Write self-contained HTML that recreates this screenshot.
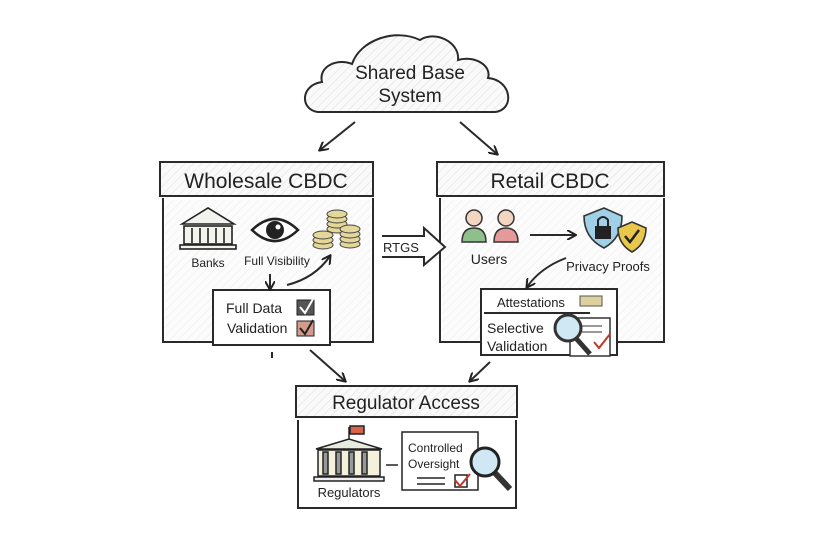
<!DOCTYPE html>
<html><head><meta charset="utf-8"><style>
html,body{margin:0;padding:0;background:#fff;}
svg{display:block;}
text{font-family:"Liberation Sans",sans-serif;fill:#222;}
</style></head><body>
<svg width="828" height="552" viewBox="0 0 828 552" xmlns="http://www.w3.org/2000/svg">
<defs>
<pattern id="h" width="6" height="6" patternUnits="userSpaceOnUse" patternTransform="rotate(45)">
<rect width="6" height="6" fill="#fafafa"/><line x1="0" y1="0" x2="0" y2="6" stroke="#e2e2e2" stroke-width="1.2"/></pattern>
<marker id="a" markerWidth="10" markerHeight="10" refX="8" refY="5" orient="auto" markerUnits="userSpaceOnUse"><path d="M0,0 L9,5 L0,10" fill="none" stroke="#222" stroke-width="2"/></marker>
</defs>
<g stroke="#2a2a2a" stroke-width="2" fill="none">
<path d="M318,112 C300,110 300,85 322,82 C318,66 338,58 352,64 C360,40 395,28 420,40 C435,30 460,42 458,60 C475,55 492,66 488,78 C512,80 515,110 495,112 Z" fill="url(#h)"/>
<line x1="355" y1="122" x2="320" y2="150" marker-end="url(#a)"/>
<line x1="460" y1="122" x2="497" y2="154" marker-end="url(#a)"/>
<rect x="160" y="162" width="213" height="34" fill="url(#h)"/>
<path d="M163,198 V342 H373 V198" fill="#fff"/>
<rect x="165" y="200" width="206" height="140" fill="url(#h)" stroke="none" opacity="0.6"/>
<rect x="437" y="162" width="227" height="34" fill="url(#h)"/>
<path d="M440,198 V342 H664 V198" fill="#fff"/>
<rect x="442" y="200" width="220" height="140" fill="url(#h)" stroke="none" opacity="0.6"/>
<rect x="213" y="290" width="117" height="55" fill="#fff"/>
<rect x="481" y="289" width="136" height="66" fill="#fff"/>
<line x1="484" y1="313" x2="590" y2="313"/>
<path d="M382,236 H424 V228 L445,247 L424,265 V257 H382" fill="#fff"/>
<rect x="296" y="386" width="221" height="31" fill="url(#h)"/>
<path d="M298,420 V508 H516 V420" fill="#fff"/>
<line x1="310" y1="350" x2="345" y2="381" marker-end="url(#a)"/>
<line x1="490" y1="362" x2="470" y2="381" marker-end="url(#a)"/>
<line x1="272" y1="352" x2="272" y2="358"/>
<line x1="270" y1="274" x2="270" y2="289" marker-end="url(#a)"/>
<path d="M287,285 Q315,278 330,256" marker-end="url(#a)"/>
<line x1="530" y1="235" x2="575" y2="235" marker-end="url(#a)"/>
<path d="M566,258 Q540,268 527,287" marker-end="url(#a)"/>
</g>
<g stroke="#222" stroke-width="1.6" fill="#f3f3ee">
<path d="M182,224 L208,208 L234,224 Z"/>
<rect x="184" y="226" width="48" height="18"/>
<line x1="192" y1="228" x2="192" y2="243"/><line x1="200" y1="228" x2="200" y2="243"/><line x1="208" y1="228" x2="208" y2="243"/><line x1="216" y1="228" x2="216" y2="243"/><line x1="224" y1="228" x2="224" y2="243"/>
<rect x="180" y="245" width="56" height="4"/>
</g>
<path d="M252,230 Q275,208 298,230 Q275,252 252,230 Z" fill="#fff" stroke="#222" stroke-width="2.5"/>
<circle cx="275" cy="230" r="9" fill="#222"/><circle cx="278" cy="227" r="2.5" fill="#fff"/>
<g stroke="#444" stroke-width="1" fill="#e4d79a">
<ellipse cx="337" cy="229" rx="10" ry="4"/><ellipse cx="337" cy="224" rx="10" ry="4"/><ellipse cx="337" cy="219" rx="10" ry="4"/><ellipse cx="337" cy="214" rx="10" ry="4"/>
<ellipse cx="323" cy="245" rx="10" ry="4"/><ellipse cx="323" cy="240" rx="10" ry="4"/><ellipse cx="323" cy="235" rx="10" ry="4"/>
<ellipse cx="350" cy="244" rx="10" ry="4"/><ellipse cx="350" cy="239" rx="10" ry="4"/><ellipse cx="350" cy="234" rx="10" ry="4"/><ellipse cx="350" cy="229" rx="10" ry="4"/>
</g>
<g stroke="#333" stroke-width="1.5">
<circle cx="474" cy="218" r="8" fill="#f3d6c2"/><path d="M462,242 Q462,228 474,228 Q486,228 486,242 Z" fill="#8dc08a"/>
<circle cx="506" cy="218" r="8" fill="#f3d6c2"/><path d="M494,242 Q494,228 506,228 Q518,228 518,242 Z" fill="#e59a9a"/>
</g>
<path d="M584,216 L604,208 L622,216 Q622,238 604,248 Q584,238 584,216 Z" fill="#9fd0e8" stroke="#333" stroke-width="1.6"/>
<rect x="595" y="226" width="16" height="13" fill="#222"/><path d="M598,226 V220 Q603,214 608,220 V226" fill="none" stroke="#222" stroke-width="2"/>
<path d="M618,228 L632,222 L646,228 Q646,244 632,252 Q618,244 618,228 Z" fill="#e8c74a" stroke="#333" stroke-width="1.6"/>
<path d="M625,236 L630,242 L639,230" stroke="#222" stroke-width="2.5" fill="none"/>
<rect x="297" y="300" width="17" height="15" fill="#555" stroke="#222"/><path d="M300,307 L305,313 L313,299" stroke="#fff" stroke-width="2" fill="none"/>
<rect x="297" y="321" width="17" height="15" fill="#d49a8c" stroke="#222"/><path d="M300,328 L305,334 L313,320" stroke="#222" stroke-width="2" fill="none"/>
<rect x="580" y="296" width="22" height="10" fill="#ddd1a0" stroke="#555"/>
<rect x="570" y="318" width="40" height="38" fill="#fff" stroke="#333" stroke-width="1.5"/>
<line x1="582" y1="326" x2="602" y2="326" stroke="#333"/><line x1="582" y1="332" x2="602" y2="332" stroke="#333"/>
<path d="M594,342 L599,348 L610,334" stroke="#c0392b" stroke-width="2" fill="none"/>
<line x1="574" y1="336" x2="590" y2="354" stroke="#333" stroke-width="5"/>
<circle cx="568" cy="328" r="13" fill="#cfe8f3" stroke="#333" stroke-width="3"/>
<g stroke="#222" stroke-width="1.5">
<line x1="349" y1="427" x2="349" y2="440"/><rect x="350" y="426" width="14" height="8" fill="#d9634a"/>
<path d="M316,449 L349,439 L382,449 Z" fill="#e8ecde"/>
<rect x="318" y="450" width="62" height="26" fill="#f3f1dc"/>
<rect x="323" y="452" width="5" height="22" fill="#999"/><rect x="336" y="452" width="5" height="22" fill="#999"/><rect x="349" y="452" width="5" height="22" fill="#999"/><rect x="362" y="452" width="5" height="22" fill="#999"/>
<rect x="314" y="477" width="70" height="4" fill="#eee"/>
<line x1="386" y1="465" x2="398" y2="465"/>
<rect x="402" y="432" width="76" height="58" fill="#fff"/>
<line x1="417" y1="478" x2="445" y2="478"/><line x1="417" y1="484" x2="445" y2="484"/>
<rect x="455" y="475" width="12" height="12" fill="#fff"/>
</g>
<path d="M455,480 L460,486 L470,474" stroke="#c0392b" stroke-width="2" fill="none"/>
<line x1="495" y1="473" x2="510" y2="489" stroke="#333" stroke-width="6"/>
<circle cx="485" cy="462" r="14" fill="#cfe8f3" stroke="#222" stroke-width="3"/>
<text x="410" y="79" font-size="19" text-anchor="middle">Shared Base</text>
<text x="410" y="102" font-size="19" text-anchor="middle">System</text>
<text x="266" y="188" font-size="21" text-anchor="middle">Wholesale CBDC</text>
<text x="550" y="188" font-size="21" text-anchor="middle">Retail CBDC</text>
<text x="208" y="267" font-size="12" text-anchor="middle">Banks</text>
<text x="277" y="265" font-size="12" text-anchor="middle">Full Visibility</text>
<text x="226" y="313" font-size="14">Full Data</text>
<text x="227" y="333" font-size="14">Validation</text>
<text x="383" y="252" font-size="13">RTGS</text>
<text x="489" y="264" font-size="14" text-anchor="middle">Users</text>
<text x="608" y="271" font-size="13" text-anchor="middle">Privacy Proofs</text>
<text x="497" y="307" font-size="13">Attestations</text>
<text x="487" y="333" font-size="14">Selective</text>
<text x="487" y="351" font-size="14">Validation</text>
<text x="406" y="409" font-size="19" text-anchor="middle">Regulator Access</text>
<text x="349" y="497" font-size="13" text-anchor="middle">Regulators</text>
<text x="408" y="452" font-size="12">Controlled</text>
<text x="408" y="468" font-size="12">Oversight</text>
</svg>
</body></html>
